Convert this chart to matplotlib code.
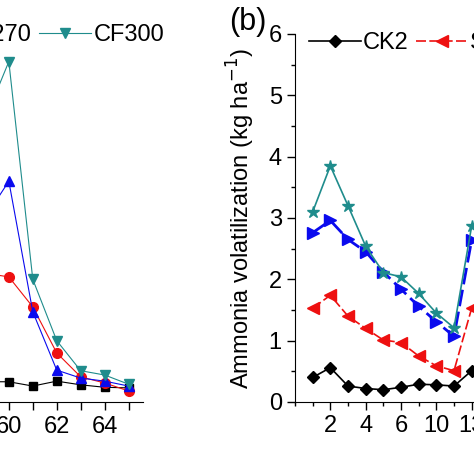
import matplotlib
matplotlib.use("Agg")
import matplotlib.pyplot as plt
from matplotlib.ticker import MultipleLocator

# Panel (a) data
days_a = [59, 60, 61, 62, 63, 64, 65]
ck1 = [0.33, 0.33, 0.26, 0.34, 0.28, 0.24, 0.23]
cf240 = [2.1, 2.04, 1.55, 0.80, 0.41, 0.31, 0.18]
cf270 = [3.0, 3.6, 1.47, 0.52, 0.39, 0.34, 0.26]
cf300 = [4.6, 5.55, 2.0, 1.0, 0.51, 0.44, 0.29]

# Panel (b) data
idx_b = [1, 2, 3, 4, 5, 6, 7, 8, 9, 10]
tick_pos_b = [2, 4, 6, 8, 10]
tick_lab_b = ["2", "4", "6", "10", "13"]
ck2 = [0.40, 0.56, 0.26, 0.22, 0.20, 0.24, 0.29, 0.28, 0.26, 0.51]
s1 = [1.53, 1.74, 1.40, 1.20, 1.01, 0.97, 0.75, 0.59, 0.51, 1.53]
s2 = [2.76, 2.96, 2.65, 2.45, 2.12, 1.84, 1.56, 1.31, 1.07, 2.64]
s3 = [3.10, 3.85, 3.20, 2.54, 2.11, 2.04, 1.77, 1.45, 1.21, 2.87]

plt.rcParams['font.family'] = ['Liberation Sans', 'DejaVu Sans']
plt.rcParams['font.size'] = 17
W = H = 474
fig = plt.figure(figsize=(4.74, 4.74), dpi=100)

def px(l, b, r, t):
    return [l / W, 1 - b / H, (r - l) / W, (b - t) / H]

TEAL = '#1f8c8c'; BLUE = '#0a0aee'; RED = '#ee1010'

# Panel (a)
axa = fig.add_axes(px(-87, 402, 143, 34))
axa.set_xlim(56, 65.6); axa.set_ylim(0, 6)
l1, = axa.plot(days_a, ck1, '-s', color='black', mfc='black', ms=6, lw=0.8, mec='black')
l2, = axa.plot(days_a, cf240, '-o', color=RED, ms=7, lw=0.8)
l3, = axa.plot(days_a, cf270, '-^', color=BLUE, ms=7, lw=0.8)
l4, = axa.plot(days_a, cf300, '-v', color=TEAL, ms=7, lw=0.8)
for s in ['top', 'right', 'left']:
    axa.spines[s].set_visible(False)
axa.set_yticks([])
axa.set_xticks([60, 62, 64])
axa.xaxis.set_minor_locator(MultipleLocator(1))
axa.tick_params(axis='x', which='both', direction='out', length=6, width=1)
axa.tick_params(axis='x', which='major', pad=4)
fig.legend([l1, l2, l3, l4], ['CK1', 'CF240', 'CF270', 'CF300'], ncol=4,
           loc='upper right', bbox_to_anchor=(176 / W, 1 - 12 / H), frameon=False,
           handlelength=2.2, columnspacing=0.3, handletextpad=0.1, borderpad=0)

# Panel (b)
axb = fig.add_axes(px(295, 402, 560, 34))
axb.set_xlim(0, 15); axb.set_ylim(0, 6)
m1, = axb.plot(idx_b, ck2, '-D', color='black', ms=6, lw=1.2)
m2, = axb.plot(idx_b, s1, '-<', color=RED, ms=8, lw=1.2, dashes=[6, 2])
m3, = axb.plot(idx_b, s2, '->', color=BLUE, ms=8, lw=2, dashes=[6, 2])
m4, = axb.plot(idx_b, s3, '-*', color=TEAL, ms=9, lw=1.2)
for s in ['top', 'right']:
    axb.spines[s].set_visible(False)
axb.set_xticks(tick_pos_b, tick_lab_b)
axb.xaxis.set_minor_locator(MultipleLocator(1))
axb.yaxis.set_major_locator(MultipleLocator(1))
axb.yaxis.set_minor_locator(MultipleLocator(0.5))
axb.tick_params(which='both', direction='out', width=1)
axb.tick_params(which='major', length=6)
axb.tick_params(which='minor', length=3)
axb.set_ylabel('Ammonia volatilization (kg ha$^{-1}$)', labelpad=8)
fig.legend([m1, m2, m3, m4], ['CK2', 'SF1', 'SF2', 'SF3'], ncol=4,
           loc='upper left', bbox_to_anchor=(297 / W, 1 - 20 / H), frameon=False,
           handlelength=2.2, columnspacing=0.3, handletextpad=0.1, borderpad=0)
fig.text(248 / W, 1 - 30 / H, '(b)', fontsize=22, ha='center')

fig.savefig('out.png', dpi=100)
